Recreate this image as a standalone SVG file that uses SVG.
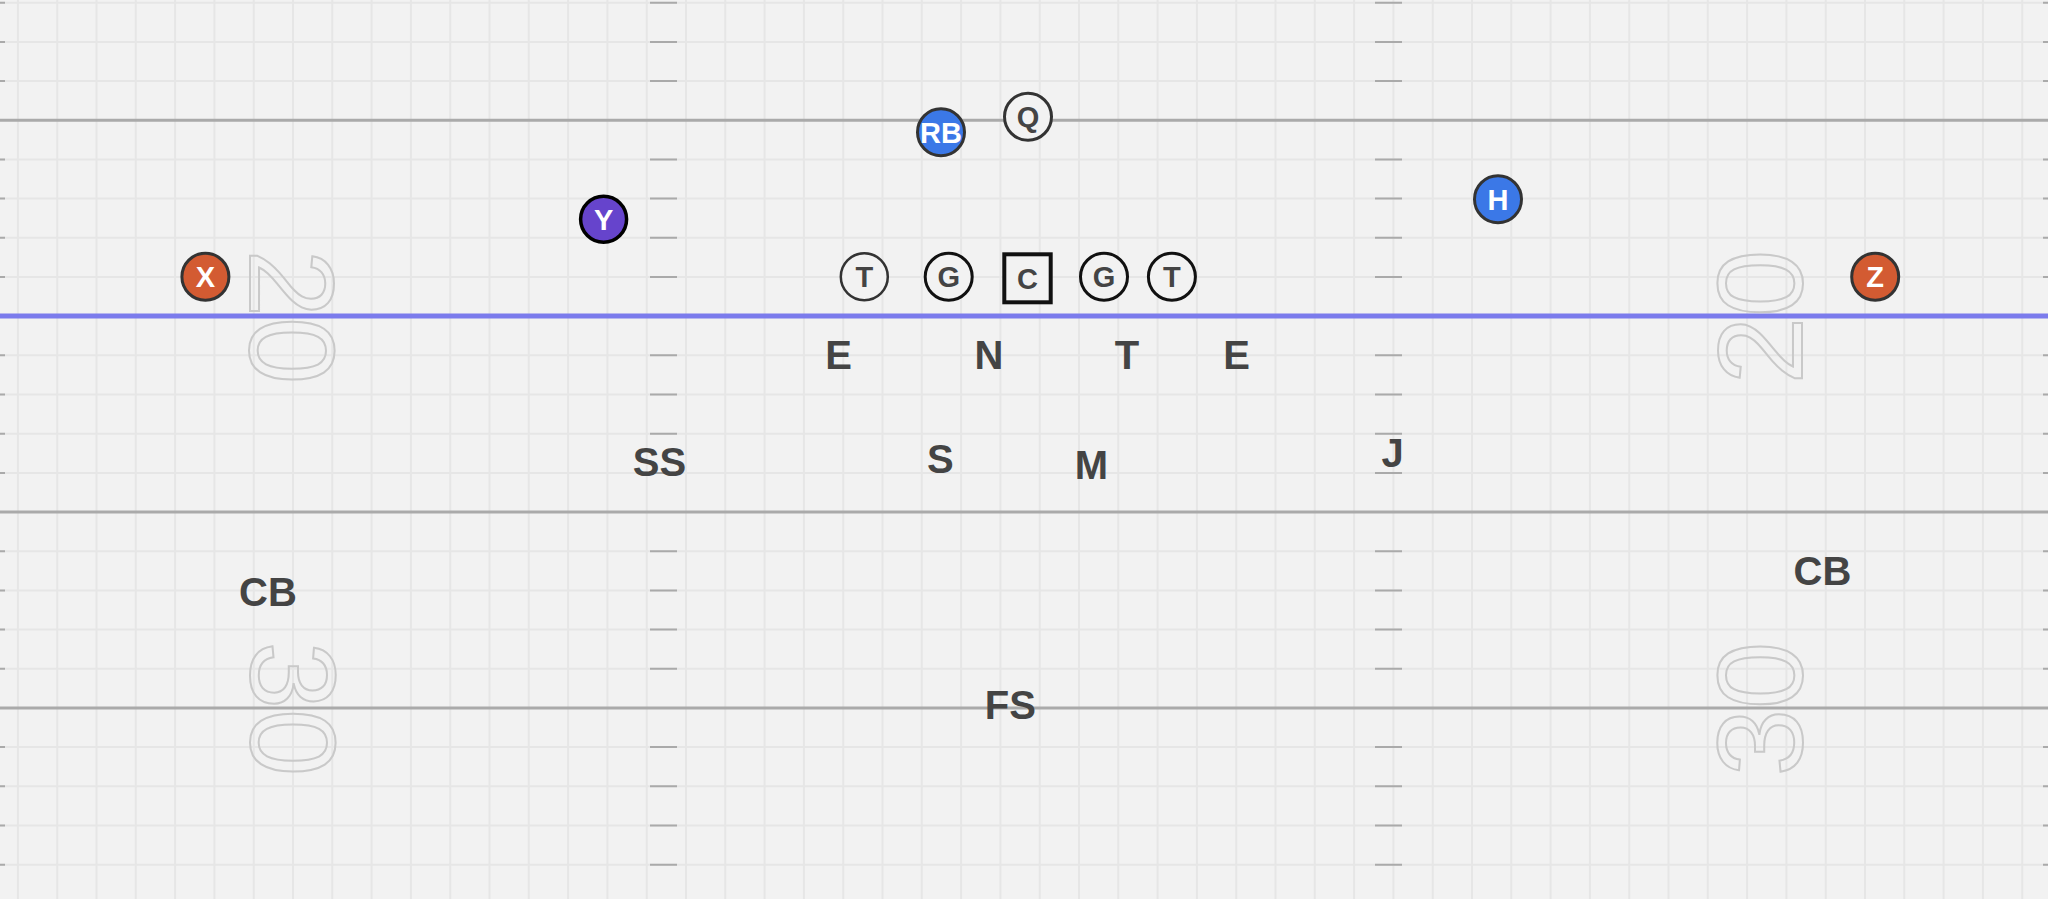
<svg xmlns="http://www.w3.org/2000/svg" width="2048" height="899" viewBox="0 0 2048 899">
<style>
.grid{stroke:#e6e6e6;stroke-width:2;fill:none}
.hash{stroke:#aaaaaa;stroke-width:2;fill:none}
.yard{stroke:#aaaaaa;stroke-width:3;fill:none}
.los{stroke:#7b7bec;stroke-width:5;fill:none}
.num{font-family:"Liberation Sans",Arial,sans-serif;font-size:121px;fill:none;stroke:#c9c9c9;stroke-width:2}
.pl{font-family:"Liberation Sans",Arial,sans-serif;font-size:29px;font-weight:bold;text-anchor:middle}
.lw{fill:#ffffff}
.ld{fill:#444444}
.def{font-family:"Liberation Sans",Arial,sans-serif;font-size:40px;font-weight:bold;fill:#444444;text-anchor:middle}
.skill{stroke:#333333;stroke-width:3}
.ol{fill:#f2f2f2;stroke:#111111;stroke-width:3}
</style>
<rect x="0" y="0" width="2048" height="899" fill="#f2f2f2"/>
<g id="field">
<path class="grid" d="M17.9 0V899M57.2 0V899M96.5 0V899M135.8 0V899M175.1 0V899M214.4 0V899M253.7 0V899M293 0V899M332.3 0V899M371.6 0V899M410.9 0V899M450.2 0V899M489.5 0V899M528.8 0V899M568.1 0V899M607.4 0V899M646.7 0V899M686 0V899M725.3 0V899M764.6 0V899M803.9 0V899M843.2 0V899M882.5 0V899M921.8 0V899M961.1 0V899M1000.4 0V899M1039.7 0V899M1079 0V899M1118.3 0V899M1157.6 0V899M1196.9 0V899M1236.2 0V899M1275.5 0V899M1314.8 0V899M1354.1 0V899M1393.4 0V899M1432.7 0V899M1472 0V899M1511.3 0V899M1550.6 0V899M1589.9 0V899M1629.2 0V899M1668.5 0V899M1707.8 0V899M1747.1 0V899M1786.4 0V899M1825.7 0V899M1865 0V899M1904.3 0V899M1943.6 0V899M1982.9 0V899M2022.2 0V899M0 2.7H2048M0 41.9H2048M0 81.1H2048M0 159.4H2048M0 198.6H2048M0 237.8H2048M0 277H2048M0 355.3H2048M0 394.5H2048M0 433.7H2048M0 472.9H2048M0 551.2H2048M0 590.4H2048M0 629.6H2048M0 668.8H2048M0 747.1H2048M0 786.3H2048M0 825.5H2048M0 864.7H2048"/>
<path class="hash" d="M0 2.7H5M650 2.7H677M1375 2.7H1402M2043 2.7H2048M0 41.9H5M650 41.9H677M1375 41.9H1402M2043 41.9H2048M0 81.1H5M650 81.1H677M1375 81.1H1402M2043 81.1H2048M0 159.4H5M650 159.4H677M1375 159.4H1402M2043 159.4H2048M0 198.6H5M650 198.6H677M1375 198.6H1402M2043 198.6H2048M0 237.8H5M650 237.8H677M1375 237.8H1402M2043 237.8H2048M0 277H5M650 277H677M1375 277H1402M2043 277H2048M0 355.3H5M650 355.3H677M1375 355.3H1402M2043 355.3H2048M0 394.5H5M650 394.5H677M1375 394.5H1402M2043 394.5H2048M0 433.7H5M650 433.7H677M1375 433.7H1402M2043 433.7H2048M0 472.9H5M650 472.9H677M1375 472.9H1402M2043 472.9H2048M0 551.2H5M650 551.2H677M1375 551.2H1402M2043 551.2H2048M0 590.4H5M650 590.4H677M1375 590.4H1402M2043 590.4H2048M0 629.6H5M650 629.6H677M1375 629.6H1402M2043 629.6H2048M0 668.8H5M650 668.8H677M1375 668.8H1402M2043 668.8H2048M0 747.1H5M650 747.1H677M1375 747.1H1402M2043 747.1H2048M0 786.3H5M650 786.3H677M1375 786.3H1402M2043 786.3H2048M0 825.5H5M650 825.5H677M1375 825.5H1402M2043 825.5H2048M0 864.7H5M650 864.7H677M1375 864.7H1402M2043 864.7H2048"/>
<path class="yard" d="M0 120.2H2048M0 512H2048M0 707.9H2048"/>
<path class="los" d="M0 316.1H2048"/>
<text class="num" transform="translate(293.5,317) rotate(90)" x="0" y="43.3" text-anchor="middle">20</text>
<text class="num" transform="translate(1759,317) rotate(-90)" x="0" y="43.3" text-anchor="middle">20</text>
<text class="num" transform="translate(294,709) rotate(90)" x="0" y="43.3" text-anchor="middle">30</text>
<text class="num" transform="translate(1759,709) rotate(-90)" x="0" y="43.3" text-anchor="middle">30</text>
</g>
<g id="connectors"></g>
<g id="X"><circle class="skill" cx="205.4" cy="276.7" r="23.5" fill="#d35b32"/><text class="pl lw" x="205.4" y="287.1">X</text></g>
<g id="Y"><circle cx="603.6" cy="219.3" r="23" fill="#6644cc" stroke="#000000" stroke-width="3.5"/><text class="pl lw" x="603.6" y="229.7">Y</text></g>
<g id="RB"><circle class="skill" cx="941" cy="132.3" r="23.5" fill="#3b78e7"/><text class="pl lw" x="941" y="142.7">RB</text></g>
<g id="Q"><circle cx="1028" cy="116.7" r="23.5" fill="#f2f2f2" stroke="#333333" stroke-width="3"/><text class="pl ld" x="1028" y="127.1">Q</text></g>
<g id="LT"><circle cx="864.3" cy="276.7" r="23.5" fill="#f2f2f2" stroke="#333333" stroke-width="2.5"/><text class="pl ld" x="864.3" y="287.1">T</text></g>
<g id="LG"><circle class="ol" cx="948.7" cy="276.7" r="23.5"/><text class="pl ld" x="948.7" y="287.1">G</text></g>
<g id="C"><rect x="1004.3" y="254.3" width="46.4" height="48" fill="#f2f2f2" stroke="#111111" stroke-width="4"/><text class="pl ld" x="1027.5" y="288.7">C</text></g>
<g id="RG"><circle class="ol" cx="1104" cy="276.7" r="23.5"/><text class="pl ld" x="1104" y="287.1">G</text></g>
<g id="RT"><circle class="ol" cx="1171.9" cy="276.7" r="23.5"/><text class="pl ld" x="1171.9" y="287.1">T</text></g>
<g id="H"><circle class="skill" cx="1498" cy="199.3" r="23.5" fill="#3b78e7"/><text class="pl lw" x="1498" y="209.7">H</text></g>
<g id="Z"><circle class="skill" cx="1875.2" cy="276.7" r="23.5" fill="#d35b32"/><text class="pl lw" x="1875.2" y="287.1">Z</text></g>
<g id="DE1"><text class="def" x="838.5" y="369.3">E</text></g>
<g id="DN"><text class="def" x="989" y="369.3">N</text></g>
<g id="DT"><text class="def" x="1127" y="369.3">T</text></g>
<g id="DE2"><text class="def" x="1236.5" y="369.3">E</text></g>
<g id="SS"><text class="def" x="659.4" y="476">SS</text></g>
<g id="S"><text class="def" x="940.4" y="473.2">S</text></g>
<g id="M"><text class="def" x="1091.5" y="478.8">M</text></g>
<g id="J"><text class="def" x="1392.7" y="467.3">J</text></g>
<g id="CB1"><text class="def" x="267.9" y="605.5">CB</text></g>
<g id="CB2"><text class="def" x="1822.5" y="584.5">CB</text></g>
<g id="FS"><text class="def" x="1010.3" y="719.3">FS</text></g>
</svg>
